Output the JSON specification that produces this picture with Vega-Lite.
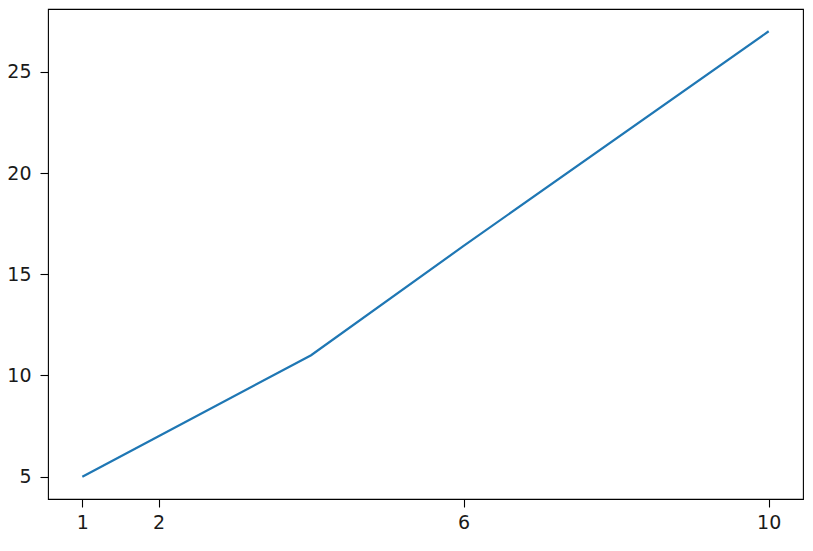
{
  "$schema": "https://vega.github.io/schema/vega-lite/v6.json",
  "autosize": "none",
  "width": 755,
  "height": 490,
  "padding": {"left": 48, "top": 9, "right": 10, "bottom": 52},
  "background": "white",
  "config": {
    "view": {"stroke": "#000000", "strokeWidth": 1.1},
    "axis": {
      "domain": false,
      "grid": false,
      "tickColor": "#000000",
      "tickSize": 8,
      "tickWidth": 1.1,
      "labelFont": "DejaVu Sans",
      "labelFontSize": 19,
      "labelColor": "#1a1a1a",
      "title": null
    }
  },
  "data": {
    "values": [
      {"x": 1, "y": 5},
      {"x": 2, "y": 7},
      {"x": 4, "y": 11},
      {"x": 6, "y": 16.4},
      {"x": 10, "y": 27}
    ]
  },
  "mark": {"type": "line", "color": "#1f77b4", "strokeWidth": 2.2},
  "encoding": {
    "x": {
      "field": "x",
      "type": "quantitative",
      "scale": {"domain": [0.55, 10.45], "nice": false, "zero": false},
      "axis": {"values": [1, 2, 6, 10], "labelFlush": false, "labelPadding": 6}
    },
    "y": {
      "field": "y",
      "type": "quantitative",
      "scale": {"domain": [3.9, 28.1], "nice": false, "zero": false},
      "axis": {"values": [5, 10, 15, 20, 25], "labelPadding": 9}
    }
  }
}
